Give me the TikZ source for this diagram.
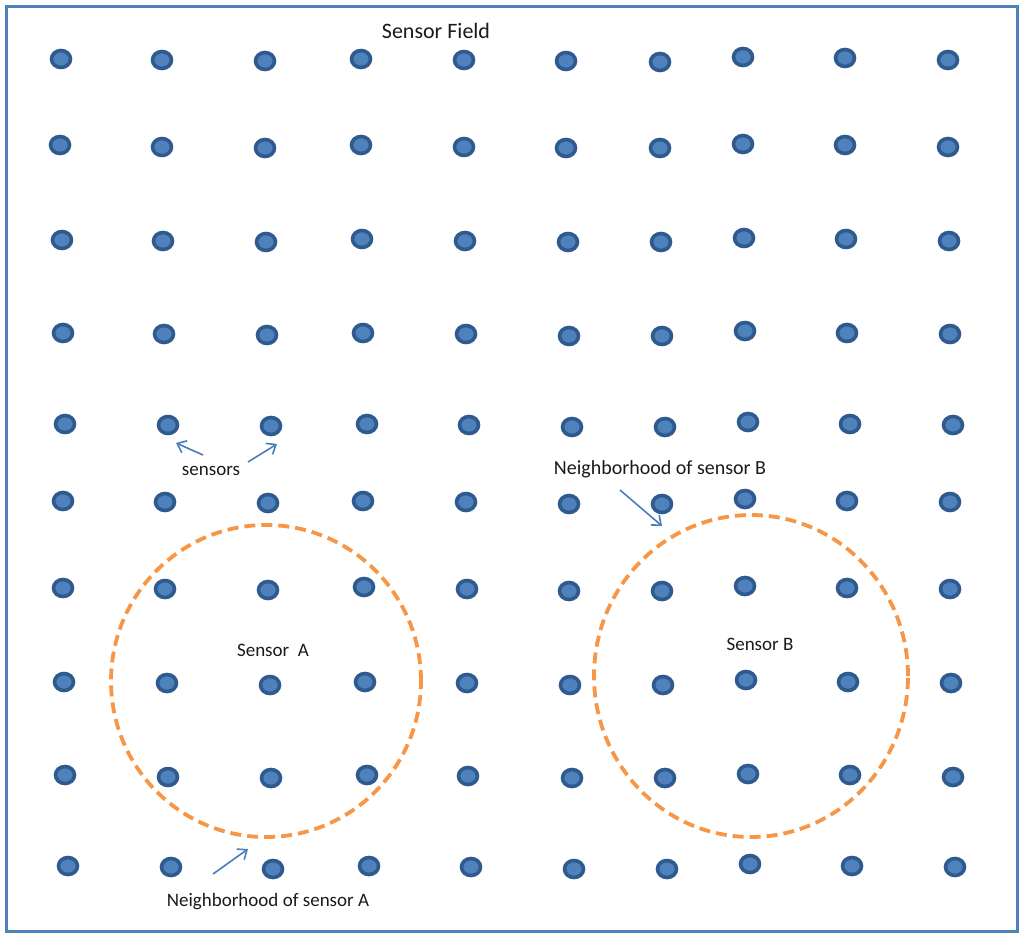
\documentclass[tikz,border=0pt]{standalone}
\usepackage{fontspec}
\setmainfont{Carlito}
\usetikzlibrary{arrows.meta,shapes.geometric}
\definecolor{dotfill}{HTML}{4F81BD}
\definecolor{dotline}{HTML}{2F5A8E}
\definecolor{frame}{HTML}{4F81BD}
\definecolor{orng}{HTML}{F79646}
\definecolor{arr}{HTML}{4A7EBB}
\definecolor{txt}{HTML}{1A1A1A}
\tikzset{
  sensor/.style={ellipse, minimum width=19pt, minimum height=17pt, inner sep=0pt, fill=dotfill, draw=dotline, line width=3.6pt},
  hood/.style={draw=orng, line width=3.8pt, dash pattern=on 11pt off 6pt},
  pointer/.style={draw=arr, line width=1.6pt, -{Straight Barb[length=8pt,width=13pt,line width=1.6pt]}},
  lbl/.style={text=txt, font=\fontsize{19}{22}\selectfont, inner sep=0pt},
}
\begin{document}
\begin{tikzpicture}[x=1pt,y=-1pt]
\useasboundingbox (0,0) rectangle (1024,937);
\node[draw=frame, line width=3pt, minimum width=1011pt, minimum height=925pt, inner sep=0pt] (field) at (511.5,468.5) {};
\node[lbl, font=\fontsize{22}{26}\selectfont] (title) at (436,31) {Sensor Field};
\foreach \x/\y [count=\i] in {
61/59,162/60,265/61,361/59,464/60,566/61,660/62,743/57,845/58,948/60,
60/145,162/147,265/148,361/145,464/147,566/148,660/148,743/144,845/145,948/147,
62/240,163/241,266/242,362/239,465/241,568/242,661/242,744/238,846/239,949/241,
63/333,164/334,267/335,363/333,466/334,569/336,662/336,745/331,847/333,950/334,
65/424,168/425,271/426,367/424,469/425,572/427,665/427,748/422,850/424,953/425,
63/501,165/502,268/503,363/501,466/502,569/504,662/504,745/499,847/501,950/502,
63/588,165/589,268/590,364/587,467/589,569/591,662/591,745/586,847/588,950/589,
64/682,167/683,270/685,365/682,467/683,570/685,663/685,746/680,848/682,951/683,
65/775,168/777,271/778,367/775,468/776,572/778,665/778,748/774,850/775,953/777,
68/866,171/867,273/869,369/866,471/867,574/869,667/869,750/864,852/866,955/867}
  \node[sensor] (s\i) at (\x,\y) {};
\node[hood, ellipse, minimum width=310pt, minimum height=312pt, inner sep=0pt] (hoodA) at (266,681) {};
\node[hood, ellipse, minimum width=314pt, minimum height=322pt, inner sep=0pt] (hoodB) at (751,676) {};
\node[lbl] (labA) at (273,650) {Sensor\ \ A};
\node[lbl] (labB) at (760,644) {Sensor B};
\node[lbl] (sens) at (211,471) {sensors};
\node[lbl, font=\fontsize{20}{24}\selectfont] (nbB) at (660,469) {Neighborhood of sensor B};
\node[lbl] (nbA) at (268,902) {Neighborhood of sensor A};
\coordinate (t1) at (203,455); \coordinate (h1) at (176,443);
\coordinate (t2) at (248,462); \coordinate (h2) at (277,444);
\coordinate (t3) at (620,490); \coordinate (h3) at (662,526);
\coordinate (t4) at (213,874); \coordinate (h4) at (248,849);
\draw[pointer] (t1) -- (h1);
\draw[pointer] (t2) -- (h2);
\draw[pointer] (t3) -- (h3);
\draw[pointer] (t4) -- (h4);
\end{tikzpicture}
\end{document}
